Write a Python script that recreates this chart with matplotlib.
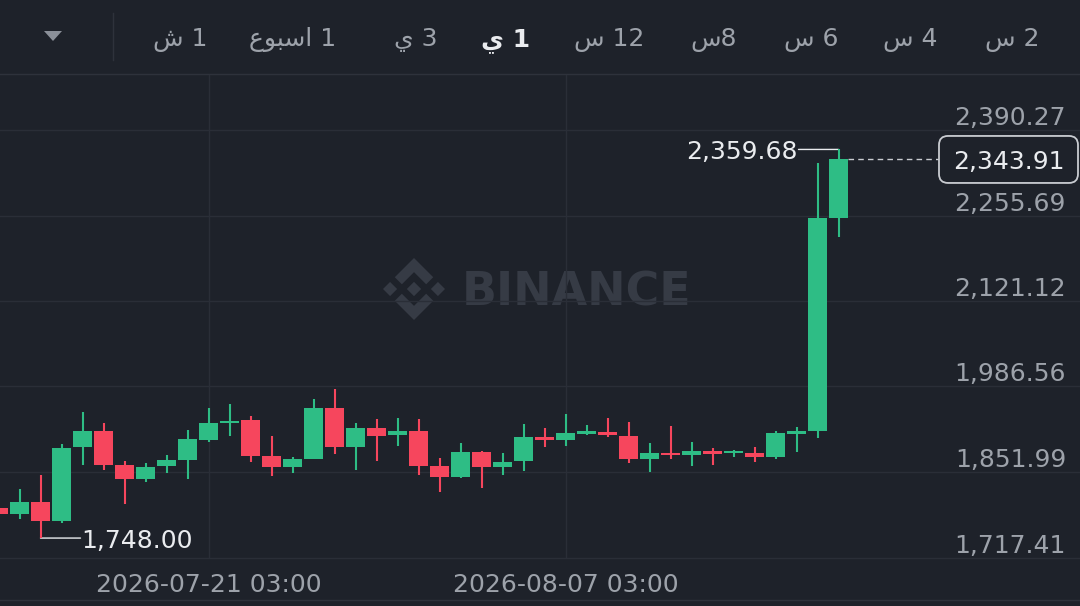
import re
import numpy as np
import pandas as pd
import matplotlib
matplotlib.use("Agg")
import matplotlib.pyplot as plt
import matplotlib.dates as mdates
from matplotlib import transforms
from matplotlib.patches import Polygon, FancyBboxPatch
from matplotlib.lines import Line2D

# ---- data (daily candles) ----
dates = pd.date_range("2026-07-11 03:00", "2026-08-20 03:00", freq="D")
opens = [1795.3, 1785.9, 1805.2, 1775.3, 1890.8, 1916.5, 1863.0, 1840.5, 1861.4, 1870.9,
         1902.3, 1928.6, 1933.3, 1877.2, 1860.3, 1872.9, 1953.2, 1890.8, 1920.8, 1909.7,
         1917.1, 1861.4, 1843.6, 1883.9, 1859.4, 1868.8, 1907.6, 1902.3, 1912.2, 1915.4,
         1909.1, 1872.0, 1881.9, 1878.3, 1885.5, 1881.4, 1882.6, 1875.1, 1912.2, 1916.5,
         2252.2]
highs = [1797.0, 1825.7, 1847.3, 1896.1, 1946.4, 1928.6, 1869.7, 1865.7, 1878.3, 1917.6,
         1953.2, 1959.0, 1940.6, 1908.6, 1876.0, 1966.8, 1982.1, 1928.6, 1934.9, 1936.4,
         1934.9, 1873.5, 1897.6, 1885.0, 1881.4, 1927.1, 1920.8, 1942.8, 1925.6, 1936.4,
         1930.6, 1897.1, 1924.0, 1899.2, 1890.2, 1886.6, 1891.8, 1917.1, 1922.3, 2337.9,
         2359.68]
lows = [1784.0, 1777.5, 1748.00, 1772.2, 1862.5, 1855.1, 1801.6, 1835.7, 1850.4, 1841.0,
        1898.7, 1909.1, 1868.2, 1845.7, 1849.9, 1871.9, 1880.3, 1855.1, 1869.7, 1892.7,
        1847.3, 1820.0, 1842.5, 1827.2, 1847.3, 1854.0, 1890.8, 1893.3, 1910.6, 1906.6,
        1865.7, 1852.4, 1872.0, 1861.9, 1863.0, 1875.1, 1868.2, 1872.0, 1884.0, 1905.0,
        2222.3]
closes = [1785.9, 1805.2, 1775.3, 1890.2, 1916.5, 1863.0, 1840.5, 1860.3, 1870.9, 1903.4,
          1929.6, 1932.7, 1877.2, 1859.8, 1872.9, 1953.2, 1890.8, 1920.8, 1909.1, 1917.1,
          1861.4, 1843.6, 1883.9, 1859.4, 1868.2, 1907.6, 1902.3, 1912.9, 1916.5, 1909.7,
          1872.0, 1881.4, 1878.3, 1885.5, 1880.8, 1885.0, 1875.1, 1912.9, 1916.5, 2251.3,
          2343.91]

price_ticks = [1717.41, 1851.99, 1986.56, 2121.12, 2255.69, 2390.27]
date_ticks = ["2026-07-21 03:00", "2026-08-07 03:00"]

# toolbar (logical Arabic text), last-but-four is the selected interval
intervals = ["2 س", "4 س", "6 س", "8س", "12 س", "1 ي", "3 ي", "1 اسبوع", "1 ش"]
interval_x = [1012, 910, 811, 714, 609, 506, 416, 293, 180]
selected = "1 ي"

# ---- style ----
W, H = 1080, 606
BG = "#1e222a"
GRID = "#2a2e37"
GREY = "#9da2aa"
WHITE = "#eaecef"
GREEN = "#2ebd85"
RED = "#f6465d"
WATER = "#363b45"

plt.rcParams["font.family"] = ["DejaVu Sans"]

# minimal Arabic shaping + right-to-left ordering (matplotlib has no bidi)
FORMS = {  # isolated, final, initial, medial
    "ا": ("\uFE8D", "\uFE8E", None, None),
    "ب": ("\uFE8F", "\uFE90", "\uFE91", "\uFE92"),
    "س": ("\uFEB1", "\uFEB2", "\uFEB3", "\uFEB4"),
    "ش": ("\uFEB5", "\uFEB6", "\uFEB7", "\uFEB8"),
    "ع": ("\uFEC9", "\uFECA", "\uFECB", "\uFECC"),
    "و": ("\uFEED", "\uFEEE", None, None),
    "ي": ("\uFEF1", "\uFEF2", "\uFEF3", "\uFEF4"),
}


def shape(word):
    out = []
    for k, ch in enumerate(word):
        if ch not in FORMS:
            out.append(ch)
            continue
        prev = word[k - 1] if k > 0 else ""
        nxt = word[k + 1] if k + 1 < len(word) else ""
        jp = prev in FORMS and FORMS[prev][2] is not None
        jn = nxt in FORMS and FORMS[ch][2] is not None
        iso, fin, ini, med = FORMS[ch]
        out.append(med if jp and jn else fin if jp else ini if jn else iso)
    return "".join(out)


def rtl(s):
    runs = re.findall(r"\d+|\D+", s)
    return "".join(r if r.isdigit() else shape(r)[::-1] for r in reversed(runs))


def fpx(x, y):
    return x / W, 1 - y / H


fig = plt.figure(figsize=(W / 100, H / 100), dpi=100, facecolor=BG)
ax = fig.add_axes([0, 1 - 557.5 / H, 1, (557.5 - 74) / H])
ax.set_facecolor(BG)
for s in ax.spines.values():
    s.set_visible(False)
ax.set_xticks([])
ax.set_yticks([])

o = np.array(opens)
hi = np.array(highs)
lo = np.array(lows)
c = np.array(closes)
x = mdates.date2num(dates)

# scales: 21 px per day, first tick date at x=208.5 px; 1.57394 price per px
ref = mdates.date2num(pd.Timestamp(date_ticks[0]))
ax.set_xlim(ref - 208.5 / 21, ref + (W - 208.5) / 21)
ppx = (price_ticks[-1] - price_ticks[0]) / (557.5 - 130)
ax.set_ylim(price_ticks[0], price_ticks[-1] + (130 - 74) * ppx)

# grid
for p in price_ticks:
    ax.axhline(p, color=GRID, lw=1, zorder=1, clip_on=False)
for d in date_ticks:
    ax.axvline(mdates.date2num(pd.Timestamp(d)), color=GRID, lw=1, zorder=1)

# watermark
logo = [
    [(38.171, 53.203), (62.759, 28.616), (87.36, 53.217), (101.667, 38.91), (62.759, 0), (23.864, 38.896)],
    [(0, 62.759), (14.307, 48.452), (28.614, 62.759), (14.307, 77.066)],
    [(38.171, 72.315), (62.759, 96.903), (87.36, 72.302), (101.675, 86.601), (62.759, 125.517), (23.864, 86.622)],
    [(96.904, 62.766), (111.211, 48.459), (125.517, 62.766), (111.211, 77.073)],
    [(48.236, 62.759), (62.759, 48.241), (77.277, 62.759), (62.759, 77.277)],
]
sc = 62 / 125.5
for poly in logo:
    pts = [fpx(383 + u * sc, 258 + v * sc) for u, v in poly]
    ax.add_patch(Polygon(pts, closed=True, fc=WATER, ec="none",
                         transform=fig.transFigure, zorder=0.5))
ax.text(*fpx(576.5, 305), "BINANCE", transform=fig.transFigure, ha="center",
        va="baseline", fontsize=33, fontweight="bold", color=WATER, zorder=0.5)

# candles
up = c >= o
cols = np.where(up, GREEN, RED)
ax.vlines(x, lo, hi, colors=cols, lw=1.5, zorder=3)
ax.bar(x, np.maximum(np.abs(c - o), 1.5), bottom=np.minimum(o, c), width=0.86,
       color=cols, lw=0, zorder=4)

# price labels on the right
ylab = transforms.offset_copy(transforms.blended_transform_factory(ax.transAxes, ax.transData),
                              fig=fig, x=0, y=5, units="dots")
for p in price_ticks:
    ax.text(1066 / W, p, f"{p:,.2f}", transform=ylab, ha="right", va="baseline",
            fontsize=18, color=GREY, zorder=5, clip_on=False)

# date labels
dtrans = transforms.blended_transform_factory(ax.transData, fig.transFigure)
for d in date_ticks:
    ax.text(mdates.date2num(pd.Timestamp(d)), 1 - 591.5 / H, d, transform=dtrans,
            ha="center", va="baseline", fontsize=18, color=GREY, clip_on=False)

# highest / lowest markers
ih, il = int(np.argmax(hi)), int(np.argmin(lo))
for i, val, side in [(ih, hi[ih], -1), (il, lo[il], 1)]:
    ax.annotate("", xy=(x[i], val), xytext=(side * 40, 0), textcoords="offset pixels",
                arrowprops=dict(arrowstyle="-", color=WHITE, lw=1, shrinkA=0, shrinkB=0),
                zorder=2)
    ax.annotate(f"{val:,.2f}", xy=(x[i], val), xytext=(side * 41, -10),
                textcoords="offset pixels", ha="right" if side < 0 else "left",
                va="baseline", fontsize=18, color=WHITE, zorder=5)

# last price line and box
fig.canvas.draw()
xr, yd = ax.transData.transform((x[-1] + 0.43, c[-1]))
ax.add_line(Line2D([xr, 939], [yd, yd], transform=transforms.IdentityTransform(),
                   color="#c9ccd1", lw=1, ls=(0, (4, 3)), zorder=2))
ax.add_patch(FancyBboxPatch((939, yd - 23.5), 139, 47, boxstyle="round,pad=0,rounding_size=9",
                            transform=transforms.IdentityTransform(), fc=BG, ec="#c9ccd1",
                            lw=1.3, zorder=5, clip_on=False))
ax.text(1008.5, yd - 9.3, f"{c[-1]:,.2f}", transform=transforms.IdentityTransform(),
        ha="center", va="baseline", fontsize=18, color=WHITE, zorder=6)

# toolbar
fig.add_artist(Polygon([fpx(44, 31), fpx(62, 31), fpx(53, 41)], closed=True,
                       fc="#8b9099", ec="none", transform=fig.transFigure))
fig.add_artist(Line2D([113 / W] * 2, [1 - 13 / H, 1 - 60 / H], color="#2e323b", lw=1))
for lab, cx in zip(intervals, interval_x):
    sel = lab == selected
    fig.text(*fpx(cx, 46), rtl(lab), ha="center", va="baseline", fontsize=18,
             color=WHITE if sel else GREY, fontweight="bold" if sel else "normal")

for yy in (74, 600):
    fig.add_artist(Line2D([0, 1], [1 - yy / H] * 2, color="#2e323b", lw=1))

fig.savefig("out.png", dpi=100, facecolor=BG)
